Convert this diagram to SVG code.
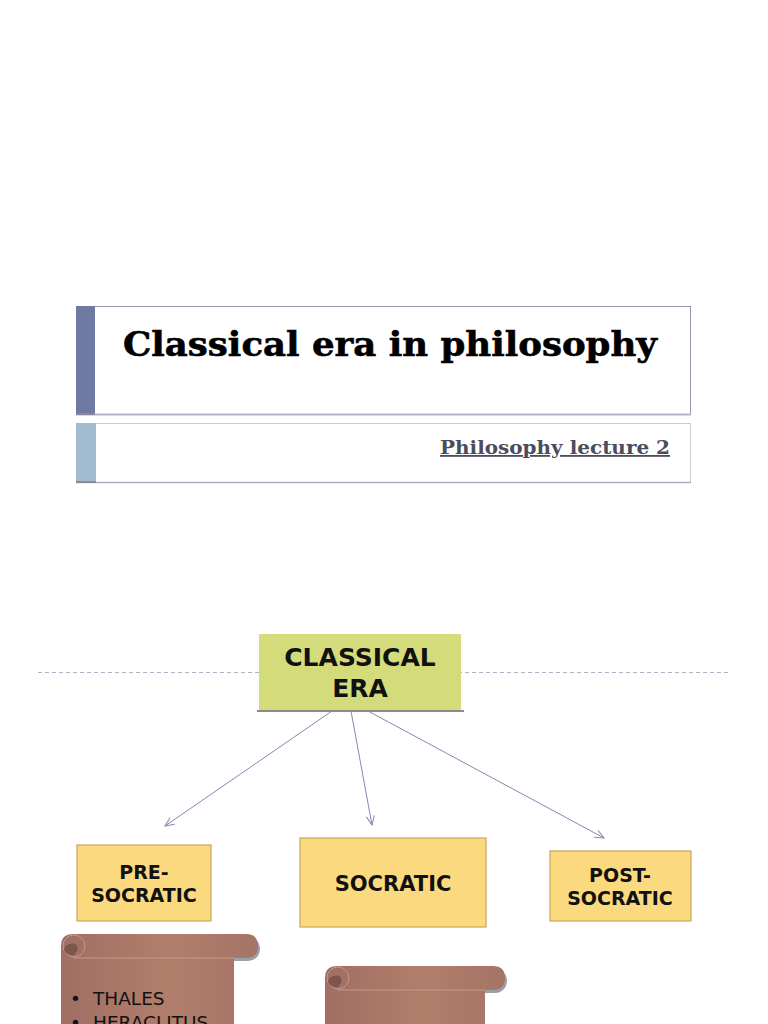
<svg xmlns="http://www.w3.org/2000/svg" width="768" height="1024" viewBox="0 0 768 1024">
<defs>
<style>
.box{stroke:#c7a65c;stroke-width:1.2}
.lbl{font-family:"DejaVu Sans",sans-serif;font-weight:bold;fill:#111;text-anchor:middle}
.conn{stroke:#8289b3;stroke-width:1;fill:none;marker-end:url(#ah)}
.item{font-family:"DejaVu Sans",sans-serif;font-size:18.5px;fill:#111}
</style>
<marker id="ah" markerWidth="12" markerHeight="12" refX="10" refY="5" orient="auto" markerUnits="userSpaceOnUse">
<path d="M1,1 L10,5 L1,9" fill="none" stroke="#8289b3" stroke-width="1"/>
</marker>
<linearGradient id="scr" x1="0" y1="0" x2="1" y2="0">
<stop offset="0" stop-color="#a06f63"/>
<stop offset="0.55" stop-color="#b27e6c"/>
<stop offset="1" stop-color="#a47466"/>
</linearGradient>
</defs>
<rect width="768" height="1024" fill="#fff"/>

<g id="title">
<rect x="76.5" y="306.5" width="614" height="108" fill="#fff" stroke="#9497b6" stroke-width="1"/>
<line x1="76" y1="414.5" x2="691" y2="414.5" stroke="#b4b6c8" stroke-width="2"/>
<rect x="76" y="306" width="19" height="109" fill="#6f7aa3"/>
<rect x="76" y="413" width="19" height="2" fill="#8a8a94"/>
<text x="390" y="356" font-family="DejaVu Serif,serif" font-weight="bold" font-size="34" text-anchor="middle" textLength="534" lengthAdjust="spacingAndGlyphs" fill="#000" stroke="#000" stroke-width="0.6">Classical era in philosophy</text>
</g>

<g id="subtitle">
<rect x="76.5" y="423.5" width="614" height="59" fill="#fff" stroke="#c9ccd6" stroke-width="1"/>
<line x1="76" y1="482.5" x2="691" y2="482.5" stroke="#a9aec0" stroke-width="1.5"/>
<rect x="76" y="423" width="20" height="60" fill="#a2bcd2"/>
<rect x="76" y="481" width="20" height="2" fill="#8a8a94"/>
<text x="670" y="454" font-family="DejaVu Serif,serif" font-weight="bold" font-size="18" text-anchor="end" textLength="230" lengthAdjust="spacingAndGlyphs" fill="#4c4c5c" text-decoration="underline">Philosophy lecture 2</text>
</g>

<g id="divider">
<line x1="38" y1="672.5" x2="730" y2="672.5" stroke="#a9b8c8" stroke-width="1" stroke-dasharray="4,3"/>
</g>

<g id="connectors">
<line class="conn" x1="332" y1="711" x2="165" y2="826"/>
<line class="conn" x1="351" y1="711" x2="372" y2="825"/>
<line class="conn" x1="368" y1="711" x2="604" y2="838"/>
</g>

<g id="classical-era">
<rect x="259" y="634" width="202" height="76" fill="#d4db7a"/>
<line x1="257" y1="711" x2="464" y2="711" stroke="#8a8a8a" stroke-width="2"/>
<text class="lbl" x="360" y="666" font-size="25">CLASSICAL</text>
<text class="lbl" x="360" y="697" font-size="25">ERA</text>
</g>

<g id="pre-socratic">
<rect class="box" x="77" y="845" width="134" height="76" fill="#fad97f"/>
<text class="lbl" x="144" y="879" font-size="19">PRE-</text>
<text class="lbl" x="144" y="902" font-size="19">SOCRATIC</text>
</g>

<g id="socratic">
<rect class="box" x="300" y="838" width="186" height="89" fill="#fad97f"/>
<text class="lbl" x="393" y="891" font-size="21">SOCRATIC</text>
</g>

<g id="post-socratic">
<rect class="box" x="550" y="851" width="141" height="70" fill="#fad97f"/>
<text class="lbl" x="620" y="882" font-size="19">POST-</text>
<text class="lbl" x="620" y="905" font-size="19">SOCRATIC</text>
</g>

<g id="scroll-pre">
<rect x="63" y="937" width="197" height="24" rx="12" fill="#9aa0a8"/>
<path d="M61,946 Q61,934 73,934 L246,934 Q258,934 258,946 Q258,958 246,958 L234,958 L234,1030 L61,1030 Z" fill="url(#scr)"/>
<line x1="73" y1="958" x2="234" y2="958" stroke="#c59a88" stroke-width="1"/>
<circle cx="74" cy="946" r="11" fill="none" stroke="#c4988a" stroke-width="1"/>
<path d="M64,950 Q66,942 76,944 Q80,950 74,955 Q66,956 64,950 Z" fill="#7d574d"/>
<text class="item" x="70" y="1005">•</text>
<text class="item" x="93" y="1005">THALES</text>
<text class="item" x="70" y="1029">•</text>
<text class="item" x="93" y="1029">HERACLITUS</text>
</g>

<g id="scroll-soc">
<rect x="327" y="969" width="180" height="24" rx="12" fill="#9aa0a8"/>
<path d="M325,978 Q325,966 337,966 L493,966 Q505,966 505,978 Q505,990 493,990 L485,990 L485,1030 L325,1030 Z" fill="url(#scr)"/>
<line x1="337" y1="990" x2="485" y2="990" stroke="#c59a88" stroke-width="1"/>
<circle cx="338" cy="978" r="11" fill="none" stroke="#c4988a" stroke-width="1"/>
<path d="M328,982 Q330,974 340,976 Q344,982 338,987 Q330,988 328,982 Z" fill="#7d574d"/>
</g>
</svg>
